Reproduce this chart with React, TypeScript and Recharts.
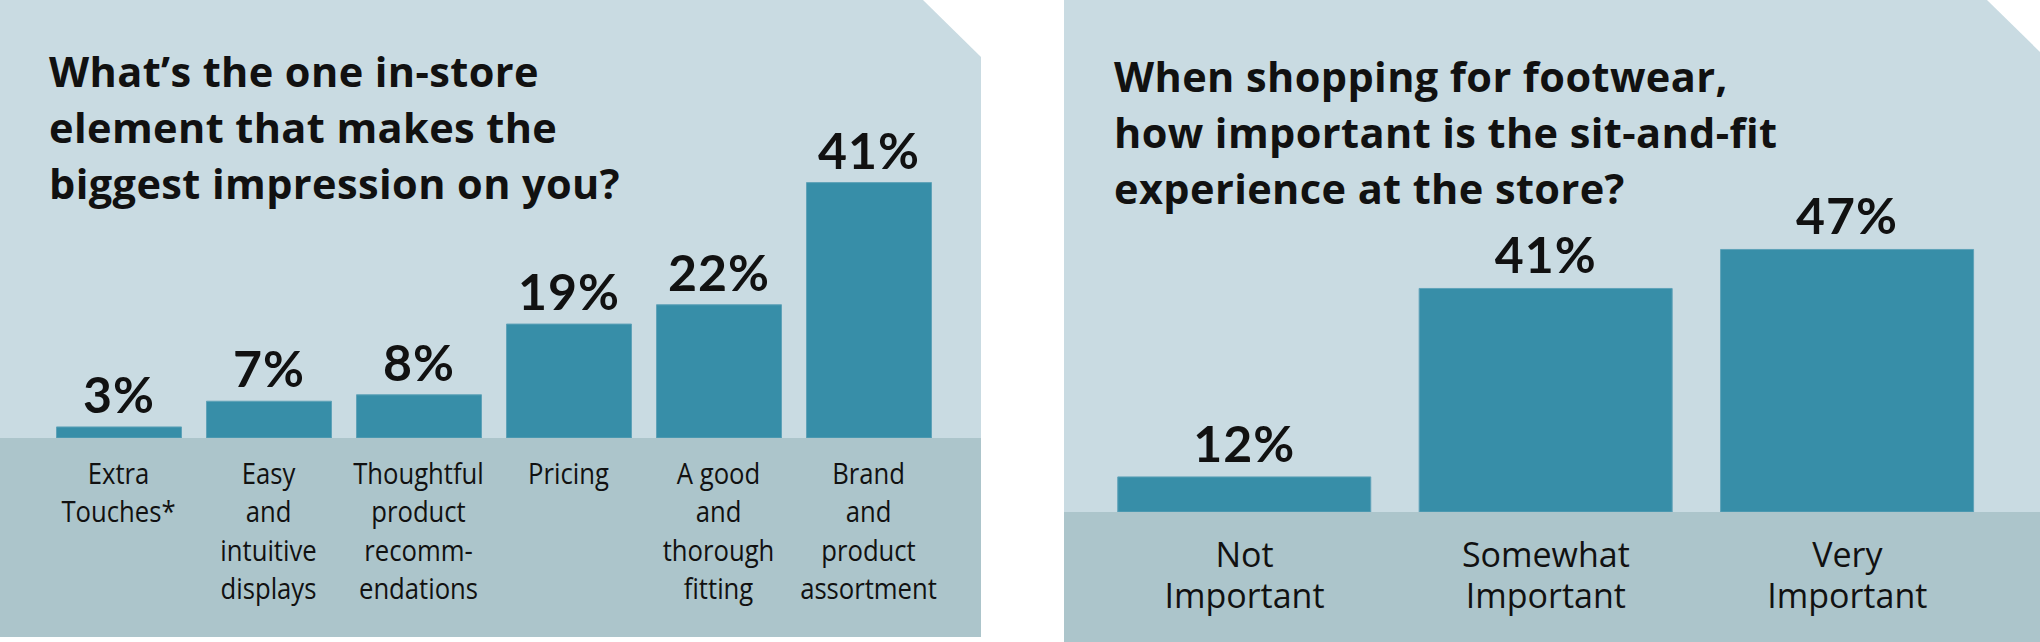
import { Bar, BarChart, LabelList, XAxis, YAxis } from "recharts";

// left panel: in-store element question
const storeTitle = ["What’s the one in-store", "element that makes the", "biggest impression on you?"];
const storeCategories = [
  "Extra\nTouches*",
  "Easy\nand\nintuitive\ndisplays",
  "Thoughtful\nproduct\nrecomm-\nendations",
  "Pricing",
  "A good\nand\nthorough\nfitting",
  "Brand\nand\nproduct\nassortment",
];
const storeShares = [3, 7, 8, 19, 22, 41];

// right panel: sit-and-fit question
const fitTitle = ["When shopping for footwear,", "how important is the sit-and-fit", "experience at the store?"];
const fitCategories = ["Not\nImportant", "Somewhat\nImportant", "Very\nImportant"];
const fitShares = [12, 41, 47];

const storeData = storeCategories.map((name, i) => ({ name, value: storeShares[i] }));
const fitData = fitCategories.map((name, i) => ({ name, value: fitShares[i] }));

const PANEL = "#c9dbe2";
const BAND = "#acc5cb";
const BAR = "#378ea8";
const INK = "#111111";
const LABEL_FONT = "Lato, 'Open Sans', sans-serif";
const BODY_FONT = "'Open Sans', 'Noto Sans', sans-serif";

// multi-line category label; squeeze = horizontal scale to fake a condensed face
function MultiTick(props: any) {
  const { x, y, payload, firstLine, lineHeight, size, weight, squeeze } = props;
  const lines = String(payload.value).split("\n");
  return (
    <text
      transform={`translate(${x},${y}) scale(${squeeze},1)`}
      textAnchor="middle"
      fontFamily={BODY_FONT}
      fontSize={size}
      fontWeight={weight}
      fill={INK}
    >
      {lines.map((line: string, i: number) => (
        <tspan key={i} x={0} y={firstLine + i * lineHeight}>
          {line}
        </tspan>
      ))}
    </text>
  );
}

function Title({ lines, x, y }: { lines: string[]; x: number; y: number }) {
  return (
    <text fontFamily={BODY_FONT} fontWeight={700} fontSize={41.5} letterSpacing={0.4} fill={INK}>
      {lines.map((line, i) => (
        <tspan key={i} x={x} y={y + i * 56}>
          {line}
        </tspan>
      ))}
    </text>
  );
}

export default function App() {
  const labelStyle = { fontFamily: LABEL_FONT, fontWeight: 700, fontSize: 50, fill: INK, letterSpacing: 1 };
  return (
    <div style={{ position: "absolute", left: 0, top: 0, width: 2040, height: 642, background: "#fff" }}>
      <svg width={2040} height={642} style={{ position: "absolute", left: 0, top: 0 }}>
        <polygon points="0,0 923,0 981,57 981,637 0,637" fill={PANEL} />
        <rect x={0} y={438} width={981} height={199} fill={BAND} />
        <polygon points="1064,0 1987,0 2040,52 2040,642 1064,642" fill={PANEL} />
        <rect x={1064} y={512} width={976} height={130} fill={BAND} />
        <Title lines={storeTitle} x={49} y={87} />
        <Title lines={fitTitle} x={1114} y={92} />
      </svg>

      <div style={{ position: "absolute", left: 0, top: 0 }}>
        <BarChart width={981} height={642} data={storeData} margin={{ top: 100, right: 37.5, bottom: 0, left: 43.5 }}>
          <XAxis
            dataKey="name"
            axisLine={false}
            tickLine={false}
            tickSize={0}
            tickMargin={0}
            height={204}
            interval={0}
            tick={(p: any) => (
              <MultiTick {...p} firstLine={46} lineHeight={38.5} size={29.5} weight={400} squeeze={0.87} />
            )}
          />
          <YAxis hide domain={[1.28, 53.85]} allowDataOverflow />
          <Bar dataKey="value" fill={BAR} stroke="#5fa2b8" strokeWidth={1} barSize={125} isAnimationActive={false}>
            <LabelList dataKey="value" position="top" offset={14} formatter={(v: any) => `${v}%`} style={labelStyle} />
          </Bar>
        </BarChart>
      </div>

      <div style={{ position: "absolute", left: 1064, top: 0 }}>
        <BarChart width={976} height={642} data={fitData} margin={{ top: 100, right: 42, bottom: 0, left: 29.75 }}>
          <XAxis
            dataKey="name"
            axisLine={false}
            tickLine={false}
            tickSize={0}
            tickMargin={0}
            height={130}
            interval={0}
            tick={(p: any) => (
              <MultiTick {...p} firstLine={54.5} lineHeight={41.6} size={34} weight={500} squeeze={1} />
            )}
          />
          <YAxis hide domain={[6.6, 70]} allowDataOverflow />
          <Bar dataKey="value" fill={BAR} stroke="#5fa2b8" strokeWidth={1} barSize={253} isAnimationActive={false}>
            <LabelList dataKey="value" position="top" offset={15} formatter={(v: any) => `${v}%`} style={labelStyle} />
          </Bar>
        </BarChart>
      </div>
    </div>
  );
}
